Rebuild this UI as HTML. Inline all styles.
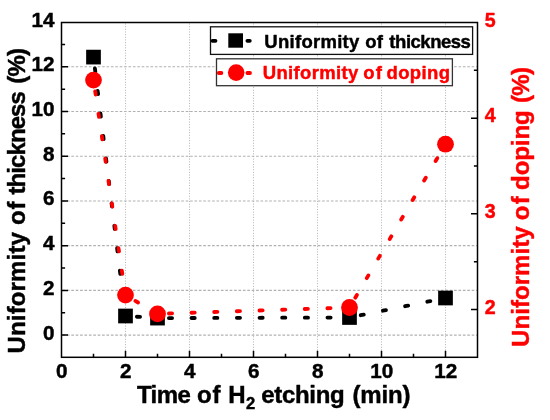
<!DOCTYPE html><html><head><meta charset="utf-8"><style>html,body{margin:0;padding:0;background:#fff;}svg{display:block;}</style></head><body>
<svg width="550" height="420" viewBox="0 0 550 420" font-family='"Liberation Sans", Arial, sans-serif' font-weight="bold">
<style>text{stroke:currentColor;stroke-width:0.45px;stroke-linejoin:round;}</style>
<rect width="550" height="420" fill="#fff"/>
<line x1="62.5" y1="335.10" x2="477" y2="335.10" stroke="#b0b0b0" stroke-width="1.1" stroke-dasharray="2.6 1.8"/>
<line x1="62.5" y1="290.38" x2="477" y2="290.38" stroke="#b0b0b0" stroke-width="1.1" stroke-dasharray="2.6 1.8"/>
<line x1="62.5" y1="245.66" x2="477" y2="245.66" stroke="#b0b0b0" stroke-width="1.1" stroke-dasharray="2.6 1.8"/>
<line x1="62.5" y1="200.94" x2="477" y2="200.94" stroke="#b0b0b0" stroke-width="1.1" stroke-dasharray="2.6 1.8"/>
<line x1="62.5" y1="156.22" x2="477" y2="156.22" stroke="#b0b0b0" stroke-width="1.1" stroke-dasharray="2.6 1.8"/>
<line x1="62.5" y1="111.50" x2="477" y2="111.50" stroke="#b0b0b0" stroke-width="1.1" stroke-dasharray="2.6 1.8"/>
<line x1="62.5" y1="66.78" x2="477" y2="66.78" stroke="#b0b0b0" stroke-width="1.1" stroke-dasharray="2.6 1.8"/>
<line x1="125.50" y1="23.5" x2="125.50" y2="356.5" stroke="#b2b2b2" stroke-width="1" stroke-dasharray="1 1.65"/>
<line x1="189.50" y1="23.5" x2="189.50" y2="356.5" stroke="#b2b2b2" stroke-width="1" stroke-dasharray="1 1.65"/>
<line x1="253.50" y1="23.5" x2="253.50" y2="356.5" stroke="#b2b2b2" stroke-width="1" stroke-dasharray="1 1.65"/>
<line x1="317.50" y1="23.5" x2="317.50" y2="356.5" stroke="#b2b2b2" stroke-width="1" stroke-dasharray="1 1.65"/>
<line x1="381.50" y1="23.5" x2="381.50" y2="356.5" stroke="#b2b2b2" stroke-width="1" stroke-dasharray="1 1.65"/>
<line x1="445.50" y1="23.5" x2="445.50" y2="356.5" stroke="#b2b2b2" stroke-width="1" stroke-dasharray="1 1.65"/>
<line x1="93.50" y1="57.10" x2="125.50" y2="316.00" stroke="#000" stroke-width="3.8" stroke-linecap="round" stroke-dasharray="3.2 19.45" stroke-dashoffset="11.25"/>
<line x1="125.50" y1="316.00" x2="157.50" y2="318.10" stroke="#000" stroke-width="3.8" stroke-linecap="round" stroke-dasharray="3.2 19.45" stroke-dashoffset="11.25"/>
<line x1="157.50" y1="318.10" x2="349.50" y2="317.50" stroke="#000" stroke-width="3.8" stroke-linecap="round" stroke-dasharray="3.2 19.45" stroke-dashoffset="11.25"/>
<line x1="349.50" y1="317.50" x2="445.50" y2="298.00" stroke="#000" stroke-width="3.8" stroke-linecap="round" stroke-dasharray="3.2 19.45" stroke-dashoffset="11.25"/>
<rect x="86.15" y="49.75" width="14.7" height="14.7" fill="#000"/>
<rect x="118.15" y="308.65" width="14.7" height="14.7" fill="#000"/>
<rect x="150.15" y="310.75" width="14.7" height="14.7" fill="#000"/>
<rect x="342.15" y="310.15" width="14.7" height="14.7" fill="#000"/>
<rect x="438.15" y="290.65" width="14.7" height="14.7" fill="#000"/>
<line x1="93.50" y1="80.10" x2="125.50" y2="295.10" stroke="#f00" stroke-width="3.8" stroke-linecap="round" stroke-dasharray="3.2 19.45" stroke-dashoffset="11.25"/>
<line x1="125.50" y1="295.10" x2="157.50" y2="313.90" stroke="#f00" stroke-width="3.8" stroke-linecap="round" stroke-dasharray="3.2 19.45" stroke-dashoffset="11.25"/>
<line x1="157.50" y1="313.90" x2="349.50" y2="307.50" stroke="#f00" stroke-width="3.8" stroke-linecap="round" stroke-dasharray="3.2 19.45" stroke-dashoffset="11.25"/>
<line x1="349.50" y1="307.50" x2="445.50" y2="144.20" stroke="#f00" stroke-width="3.8" stroke-linecap="round" stroke-dasharray="3.2 19.45" stroke-dashoffset="11.25"/>
<circle cx="93.5" cy="80.1" r="8.4" fill="#f00" color="#f00"/>
<circle cx="125.5" cy="295.1" r="8.4" fill="#f00" color="#f00"/>
<circle cx="157.5" cy="313.9" r="8.4" fill="#f00" color="#f00"/>
<circle cx="349.5" cy="307.5" r="8.4" fill="#f00" color="#f00"/>
<circle cx="445.5" cy="144.2" r="8.4" fill="#f00" color="#f00"/>
<rect x="61.5" y="22.5" width="416" height="334.8" fill="none" stroke="#000" stroke-width="1.5"/>
<path d="M61.5 335.10h6.5 M61.5 312.74h3.6 M61.5 290.38h6.5 M61.5 268.02h3.6 M61.5 245.66h6.5 M61.5 223.30h3.6 M61.5 200.94h6.5 M61.5 178.58h3.6 M61.5 156.22h6.5 M61.5 133.86h3.6 M61.5 111.50h6.5 M61.5 89.14h3.6 M61.5 66.78h6.5 M61.5 44.42h3.6 M93.50 357.3v-3.6 M125.50 357.3v-6.5 M157.50 357.3v-3.6 M189.50 357.3v-6.5 M221.50 357.3v-3.6 M253.50 357.3v-6.5 M285.50 357.3v-3.6 M317.50 357.3v-6.5 M349.50 357.3v-3.6 M381.50 357.3v-6.5 M413.50 357.3v-3.6 M445.50 357.3v-6.5 M477.5 309.48h-6.5 M477.5 261.65h-3.6 M477.5 213.82h-6.5 M477.5 165.99h-3.6 M477.5 118.16h-6.5 M477.5 70.33h-3.6" stroke="#000" stroke-width="1.5" fill="none"/>
<text x="54.4" y="339.60" font-size="20.7" text-anchor="end">0</text>
<text x="54.4" y="294.88" font-size="20.7" text-anchor="end">2</text>
<text x="54.4" y="250.16" font-size="20.7" text-anchor="end">4</text>
<text x="54.4" y="205.44" font-size="20.7" text-anchor="end">6</text>
<text x="54.4" y="160.72" font-size="20.7" text-anchor="end">8</text>
<text x="54.4" y="116.00" font-size="20.7" text-anchor="end">10</text>
<text x="54.4" y="71.28" font-size="20.7" text-anchor="end">12</text>
<text x="54.4" y="26.56" font-size="20.7" text-anchor="end">14</text>
<text x="61.80" y="378.3" font-size="20.7" text-anchor="middle">0</text>
<text x="125.80" y="378.3" font-size="20.7" text-anchor="middle">2</text>
<text x="189.80" y="378.3" font-size="20.7" text-anchor="middle">4</text>
<text x="253.80" y="378.3" font-size="20.7" text-anchor="middle">6</text>
<text x="317.80" y="378.3" font-size="20.7" text-anchor="middle">8</text>
<text x="381.80" y="378.3" font-size="20.7" text-anchor="middle">10</text>
<text x="445.80" y="378.3" font-size="20.7" text-anchor="middle">12</text>
<text x="484.8" y="313.78" font-size="19.6" fill="#f00" color="#f00">2</text>
<text x="484.8" y="218.12" font-size="19.6" fill="#f00" color="#f00">3</text>
<text x="484.8" y="122.46" font-size="19.6" fill="#f00" color="#f00">4</text>
<text x="484.8" y="26.80" font-size="19.6" fill="#f00" color="#f00">5</text>
<rect x="210.5" y="26.8" width="262.1" height="27.6" fill="#fff" stroke="#111" stroke-width="1.3"/>
<rect x="216.5" y="58.8" width="235.9" height="26.9" fill="#fff" stroke="#333" stroke-width="1.3"/>
<path d="M212.5 40.8h3 M247.4 40.8h2.4" stroke="#000" stroke-width="3.8" stroke-linecap="round"/>
<rect x="228.3" y="33.3" width="14.7" height="14.4" fill="#000"/>
<path d="M218.8 73h2.6 M247.4 73h2.6" stroke="#f00" stroke-width="3.8" stroke-linecap="round"/>
<circle cx="236.2" cy="72.6" r="8.3" fill="#f00" color="#f00"/>
<text x="264.25" y="47.7" font-size="18.5" fill="#000" textLength="95.11" lengthAdjust="spacing">Uniformity</text>
<text x="365.20" y="47.7" font-size="18.5" fill="#000" textLength="17.67" lengthAdjust="spacing">of</text>
<text x="389.37" y="47.7" font-size="18.5" fill="#000" textLength="81.51" lengthAdjust="spacing">thickness</text>
<text x="262.77" y="79.4" font-size="18.5" fill="#f00" color="#f00" textLength="95.47" lengthAdjust="spacing">Uniformity</text>
<text x="363.14" y="79.4" font-size="18.5" fill="#f00" color="#f00" textLength="18.78" lengthAdjust="spacing">of</text>
<text x="386.52" y="79.4" font-size="18.5" fill="#f00" color="#f00" textLength="63.43" lengthAdjust="spacing">doping</text>
<text x="136.90" y="402.9" font-size="24" fill="#000" textLength="53.87" lengthAdjust="spacing">Time</text>
<text x="197.02" y="402.9" font-size="24" fill="#000" textLength="23.57" lengthAdjust="spacing">of</text>
<text x="228.35" y="402.9" font-size="24" fill="#000">H</text>
<text x="246.08" y="408.8" font-size="16.6" fill="#000">2</text>
<text x="261.22" y="402.9" font-size="24" fill="#000" textLength="83.44" lengthAdjust="spacing">etching</text>
<text x="352.49" y="402.9" font-size="24" fill="#000" textLength="58.04" lengthAdjust="spacing">(min)</text>
<text transform="translate(25.0,353.52) rotate(-90)" font-size="24" fill="#000" textLength="121.49" lengthAdjust="spacing">Uniformity</text>
<text transform="translate(25.0,225.08) rotate(-90)" font-size="24" fill="#000" textLength="23.47" lengthAdjust="spacing">of</text>
<text transform="translate(25.0,194.52) rotate(-90)" font-size="24" fill="#000" textLength="103.43" lengthAdjust="spacing">thickness</text>
<text transform="translate(25.0,83.63) rotate(-90)" font-size="24" fill="#000" textLength="35.55" lengthAdjust="spacing">(%)</text>
<text transform="translate(528.6,346.91) rotate(-90)" font-size="24" fill="#f00" color="#f00" textLength="120.59" lengthAdjust="spacing">Uniformity</text>
<text transform="translate(528.6,220.15) rotate(-90)" font-size="24" fill="#f00" color="#f00" textLength="23.81" lengthAdjust="spacing">of</text>
<text transform="translate(528.6,189.97) rotate(-90)" font-size="24" fill="#f00" color="#f00" textLength="79.72" lengthAdjust="spacing">doping</text>
<text transform="translate(528.6,102.89) rotate(-90)" font-size="24" fill="#f00" color="#f00" textLength="35.79" lengthAdjust="spacing">(%)</text>
</svg></body></html>
